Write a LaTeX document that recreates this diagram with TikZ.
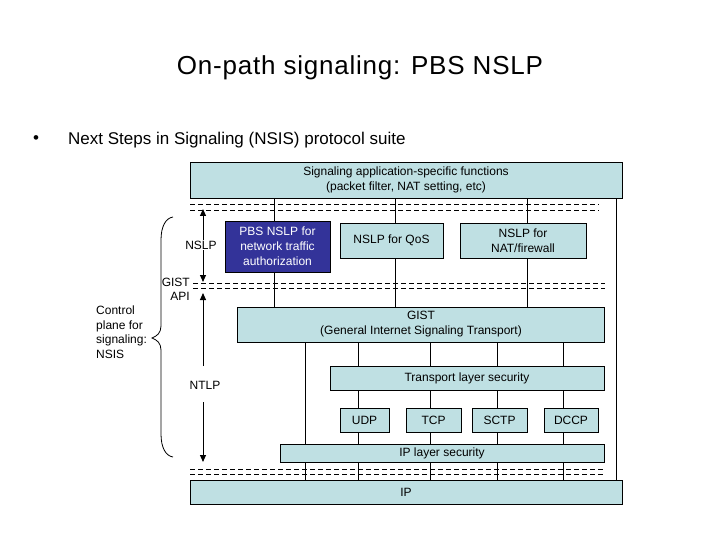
\documentclass[tikz,border=0pt]{standalone}
\usepackage{fontspec}
\setmainfont{Liberation Sans}
\newfontfamily\titlefont[LetterSpace=3]{Liberation Sans}
\usetikzlibrary{arrows.meta}
\definecolor{boxfill}{HTML}{BFE0E3}
\definecolor{pbsfill}{HTML}{333399}
\tikzset{
  layerbox/.style={draw=black, fill=boxfill, line width=0.8pt, inner sep=0pt, align=center,
    font=\fontsize{12}{15}\selectfont},
  pbsbox/.style={layerbox, fill=pbsfill, text=white},
  sep/.style={draw=black, line width=0.8pt, dash pattern=on 5pt off 3pt},
  conn/.style={draw=black, line width=0.8pt},
  lbl/.style={font=\fontsize{12}{14.5}\selectfont, inner sep=1pt},
  dbl/.style={line width=1pt, {Triangle[length=7pt,width=6pt]}-{Triangle[length=7pt,width=6pt]}},
  sgl/.style={line width=1pt, -{Triangle[length=7pt,width=6pt]}},
}
\begin{document}
\begin{tikzpicture}[x=1pt,y=-1pt]
\useasboundingbox (0,0) rectangle (720,540);
\fill[white] (0,0) rectangle (720,540);

% title and bullet
\node[font=\titlefont\fontsize{26}{30}\selectfont] (title) at (360,68) {On-path signaling: PBS NSLP};
\node[font=\fontsize{17}{20}\selectfont] (bullet) at (36,140) {•};
\node[anchor=west, font=\fontsize{17}{20}\selectfont, inner sep=0pt] (sub) at (68,140) {Next Steps in Signaling (NSIS) protocol suite};

% coordinates for the layer boxes
\coordinate (ptop) at (406,180);
\coordinate (pgist) at (421,324.5);
\coordinate (pip) at (406,492);

% dashed separators
\coordinate (d1a) at (190,204); \coordinate (d1b) at (599,204);
\coordinate (d2a) at (190,210); \coordinate (d2b) at (599,210);
\coordinate (d3a) at (193,283); \coordinate (d3b) at (605,283);
\coordinate (d4a) at (193,288.5); \coordinate (d4b) at (605,288.5);
\coordinate (d5a) at (190,469); \coordinate (d5b) at (605,469);
\coordinate (d6a) at (190,474.5); \coordinate (d6b) at (605,474.5);
\draw[sep] (d1a) -- (d1b);
\draw[sep] (d2a) -- (d2b);
\draw[sep] (d3a) -- (d3b);
\draw[sep] (d4a) -- (d4b);
\draw[sep] (d5a) -- (d5b);
\draw[sep] (d6a) -- (d6b);

% vertical connectors (drawn below the boxes)
\coordinate (v1t) at (274,198);  \coordinate (v1b) at (274,307);
\coordinate (v2t) at (395,198);  \coordinate (v2b) at (395,307);
\coordinate (v3t) at (527,198);  \coordinate (v3b) at (527,307);
\coordinate (v4t) at (616,198);  \coordinate (v4b) at (616,480);
\coordinate (v5t) at (305,342);  \coordinate (v5b) at (305,480);
\coordinate (v6t) at (358,342);  \coordinate (v6b) at (358,480);
\coordinate (v7t) at (430,342);  \coordinate (v7b) at (430,480);
\coordinate (v8t) at (497,342);  \coordinate (v8b) at (497,480);
\coordinate (v9t) at (563,342);  \coordinate (v9b) at (563,480);
\foreach \i in {1,...,9} { \draw[conn] (v\i t) -- (v\i b); }

% boxes
\node[layerbox, minimum width=432pt, minimum height=36pt] (top) at (ptop)
  {Signaling application-specific functions\\(packet filter, NAT setting, etc)};
\node[pbsbox, minimum width=105pt, minimum height=51pt] (pbs) at (277.5,246.5)
  {PBS NSLP for\\network traffic\\authorization};
\node[layerbox, minimum width=103pt, minimum height=35pt] (qos) at (391.5,240.5) {NSLP for QoS};
\node[layerbox, minimum width=126pt, minimum height=35pt] (nat) at (523,240.5) {NSLP for\\NAT/firewall};
\node[layerbox, minimum width=367pt, minimum height=35pt] (gist) at (pgist)
  {GIST\\(General Internet Signaling Transport)};
\node[layerbox, minimum width=274pt, minimum height=24pt] (tls) at (467,378) {Transport layer security};
\node[layerbox, minimum width=49pt, minimum height=24pt] (udp) at (364.5,420) {UDP};
\node[layerbox, minimum width=55pt, minimum height=24pt] (tcp) at (433.5,420) {TCP};
\node[layerbox, minimum width=55pt, minimum height=24pt] (sctp) at (499.5,420) {SCTP};
\node[layerbox, minimum width=54pt, minimum height=24pt] (dccp) at (571,420) {DCCP};
\node[layerbox, minimum width=324pt, minimum height=18pt] (ipsec) at (442,453) {IP layer security};
\node[layerbox, minimum width=432pt, minimum height=24pt] (ip) at (pip) {IP};

% NSLP arrow
\coordinate (nslpt) at (203,209);
\coordinate (nslpb) at (203,282);
\draw[dbl] (nslpt) -- (nslpb);
\node[lbl, fill=white] (nslp) at (201,245) {NSLP};

% GIST API labels
\node[lbl, anchor=east] (gistl) at (191,282) {GIST};
\node[lbl, anchor=east] (api) at (191,296) {API};

% NTLP arrows
\node[lbl] (ntlp) at (205,385) {NTLP};
\coordinate (ntlpa) at (203,366);
\coordinate (ntlpt) at (203,293);
\coordinate (ntlpc) at (203,402);
\coordinate (ntlpb) at (203,462);
\draw[sgl] (ntlpa) -- (ntlpt);
\draw[sgl] (ntlpc) -- (ntlpb);

% brace
\draw[line width=0.8pt] (173,217) .. controls (166,218) and (161,226) .. (161,240)
  -- (161,326) .. controls (161,333) and (157,336) .. (152,338)
  .. controls (157,340) and (161,343) .. (161,350)
  -- (161,434) .. controls (161,448) and (166,456) .. (173,457);
\node[lbl, anchor=west, align=left, inner sep=0pt] (ctrl) at (96,332)
  {Control\\plane for\\signaling:\\NSIS};
\end{tikzpicture}
\end{document}
